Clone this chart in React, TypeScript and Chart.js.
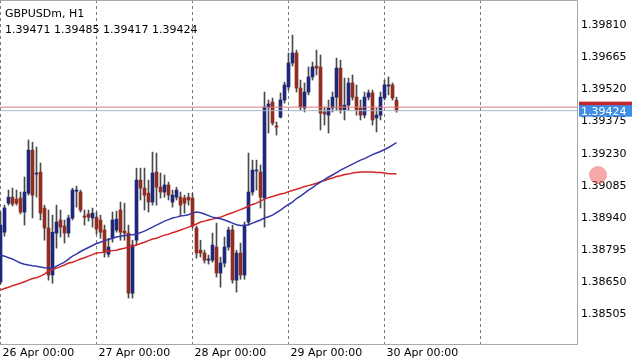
import React, { useEffect, useRef } from 'react';
import { Chart, registerables } from 'chart.js';

Chart.register(...registerables);

const symbolName = 'GBPUSDm, H1';
const dayLabels = ['26 Apr 00:00', '27 Apr 00:00', '28 Apr 00:00', '29 Apr 00:00', '30 Apr 00:00'];
const separatorBars = [0, 24, 48, 72, 96, 120];
const priceTicks = [1.38505, 1.3865, 1.38795, 1.3894, 1.39085, 1.3923, 1.39375, 1.3952, 1.39665, 1.3981];

const opens = [
  1.38651, 1.38876, 1.39007, 1.39034, 1.39025, 1.39030, 1.38967, 1.39052, 1.39246, 1.39138,
  1.39147, 1.38985, 1.38895, 1.38683, 1.38872, 1.38931, 1.38904, 1.38872, 1.38940, 1.39061,
  1.39057, 1.38949, 1.38958, 1.38940, 1.38944, 1.38931, 1.38886, 1.38777, 1.38849, 1.38886,
  1.38976, 1.38881, 1.38872, 1.38601, 1.38840, 1.39111, 1.39075, 1.39052, 1.39012, 1.39147,
  1.39079, 1.39057, 1.39089, 1.39012, 1.39034, 1.39034, 1.39030, 1.39034, 1.39030, 1.38895,
  1.38795, 1.38782, 1.38750, 1.38750, 1.38809, 1.38692, 1.38737, 1.38809, 1.38886, 1.38660,
  1.38782, 1.38683, 1.38922, 1.39057, 1.39152, 1.39147, 1.39030, 1.39440, 1.39463, 1.39355,
  1.39395, 1.39472, 1.39531, 1.39639, 1.39684, 1.39526, 1.39436, 1.39508, 1.39576, 1.39625,
  1.39621, 1.39418, 1.39404, 1.39436, 1.39485, 1.39616, 1.39427, 1.39449, 1.39549, 1.39485,
  1.39436, 1.39404, 1.39485, 1.39504, 1.39391, 1.39404, 1.39481, 1.39535, 1.39540, 1.39471,
];
const highs = [
  1.38967, 1.38998, 1.39066, 1.39075, 1.39066, 1.39057, 1.39125, 1.39292, 1.39282, 1.39260,
  1.39188, 1.38998, 1.38976, 1.38953, 1.38998, 1.38976, 1.38931, 1.38953, 1.39075, 1.39084,
  1.39066, 1.38976, 1.38976, 1.38985, 1.38967, 1.38953, 1.38908, 1.38849, 1.38967, 1.38971,
  1.39012, 1.39007, 1.38908, 1.38840, 1.39165, 1.39165, 1.39165, 1.39111, 1.39237, 1.39233,
  1.39143, 1.39134, 1.39102, 1.39066, 1.39079, 1.39057, 1.39043, 1.39052, 1.39052, 1.38904,
  1.38840, 1.38795, 1.38773, 1.38872, 1.38917, 1.38764, 1.38854, 1.38899, 1.38908, 1.38795,
  1.38827, 1.38922, 1.39233, 1.39201, 1.39201, 1.39179, 1.39508, 1.39472, 1.39481, 1.39373,
  1.39504, 1.39553, 1.39684, 1.39765, 1.39697, 1.39562, 1.39549, 1.39621, 1.39643, 1.39697,
  1.39675, 1.39440, 1.39472, 1.39508, 1.39661, 1.39652, 1.39571, 1.39571, 1.39585, 1.39540,
  1.39472, 1.39508, 1.39517, 1.39517, 1.39436, 1.39508, 1.39562, 1.39576, 1.39549, 1.39485,
];
const lows = [
  1.38642, 1.38858, 1.38998, 1.38994, 1.38998, 1.38958, 1.38908, 1.39043, 1.38940, 1.39034,
  1.38931, 1.38840, 1.38660, 1.38646, 1.38804, 1.38854, 1.38827, 1.38854, 1.38931, 1.38989,
  1.38967, 1.38908, 1.38926, 1.38899, 1.38867, 1.38849, 1.38764, 1.38764, 1.38831, 1.38876,
  1.38840, 1.38840, 1.38579, 1.38579, 1.38818, 1.39021, 1.38976, 1.38967, 1.38998, 1.38998,
  1.39030, 1.39034, 1.39021, 1.38989, 1.39021, 1.38953, 1.38962, 1.38998, 1.38895, 1.38759,
  1.38764, 1.38737, 1.38732, 1.38741, 1.38674, 1.38628, 1.38719, 1.38795, 1.38646, 1.38606,
  1.38664, 1.38664, 1.38908, 1.39043, 1.39066, 1.38985, 1.38899, 1.39323, 1.39359, 1.39314,
  1.39391, 1.39458, 1.39517, 1.39625, 1.39508, 1.39427, 1.39418, 1.39495, 1.39562, 1.39585,
  1.39337, 1.39359, 1.39323, 1.39418, 1.39427, 1.39413, 1.39382, 1.39427, 1.39472, 1.39404,
  1.39382, 1.39391, 1.39472, 1.39359, 1.39328, 1.39382, 1.39472, 1.39495, 1.39472, 1.39417,
];
const closes = [
  1.38908, 1.38985, 1.39034, 1.39003, 1.39007, 1.38967, 1.39057, 1.39246, 1.39043, 1.39143,
  1.38962, 1.38895, 1.38683, 1.38876, 1.38922, 1.38899, 1.38872, 1.38940, 1.39066, 1.39066,
  1.38976, 1.38944, 1.38944, 1.38962, 1.38890, 1.38876, 1.38786, 1.38809, 1.38931, 1.38935,
  1.38876, 1.38872, 1.38601, 1.38818, 1.39111, 1.39075, 1.39043, 1.39012, 1.39143, 1.39079,
  1.39057, 1.39089, 1.39043, 1.39043, 1.39066, 1.38998, 1.39007, 1.39021, 1.38904, 1.38782,
  1.38782, 1.38750, 1.38755, 1.38818, 1.38692, 1.38737, 1.38809, 1.38886, 1.38660, 1.38782,
  1.38683, 1.38908, 1.39057, 1.39156, 1.39156, 1.39034, 1.39440, 1.39454, 1.39368, 1.39350,
  1.39472, 1.39540, 1.39639, 1.39684, 1.39526, 1.39440, 1.39508, 1.39576, 1.39621, 1.39616,
  1.39413, 1.39409, 1.39436, 1.39485, 1.39616, 1.39427, 1.39449, 1.39549, 1.39485, 1.39427,
  1.39404, 1.39485, 1.39504, 1.39382, 1.39404, 1.39485, 1.39540, 1.39540, 1.39481, 1.39424,
];
const fastMA = [
  1.38773, 1.38768, 1.38761, 1.38755, 1.38746, 1.38737, 1.38732, 1.38728, 1.38725, 1.38723,
  1.38719, 1.38716, 1.38714, 1.38712, 1.38723, 1.38732, 1.38741, 1.38755, 1.38768, 1.38777,
  1.38789, 1.38798, 1.38807, 1.38816, 1.38825, 1.38831, 1.38838, 1.38843, 1.38849, 1.38854,
  1.38858, 1.38861, 1.38863, 1.38865, 1.38867, 1.38874, 1.38881, 1.38890, 1.38899, 1.38908,
  1.38917, 1.38926, 1.38933, 1.38940, 1.38944, 1.38949, 1.38951, 1.38955, 1.38962, 1.38967,
  1.38964, 1.38958, 1.38951, 1.38944, 1.38940, 1.38937, 1.38931, 1.38924, 1.38917, 1.38910,
  1.38906, 1.38906, 1.38910, 1.38917, 1.38924, 1.38931, 1.38940, 1.38946, 1.38953, 1.38964,
  1.38976, 1.38989, 1.39001, 1.39012, 1.39028, 1.39039, 1.39052, 1.39066, 1.39077, 1.39091,
  1.39102, 1.39113, 1.39125, 1.39134, 1.39145, 1.39156, 1.39165, 1.39174, 1.39183, 1.39192,
  1.39201, 1.39208, 1.39217, 1.39226, 1.39233, 1.39240, 1.39249, 1.39258, 1.39269, 1.39280,
];
const slowMA = [
  1.38615, 1.38622, 1.38628, 1.38635, 1.38640, 1.38646, 1.38653, 1.38660, 1.38667, 1.38671,
  1.38678, 1.38687, 1.38701, 1.38707, 1.38714, 1.38721, 1.38728, 1.38737, 1.38741, 1.38748,
  1.38755, 1.38761, 1.38768, 1.38775, 1.38782, 1.38784, 1.38786, 1.38791, 1.38793, 1.38795,
  1.38800, 1.38804, 1.38809, 1.38813, 1.38818, 1.38825, 1.38831, 1.38838, 1.38845, 1.38849,
  1.38856, 1.38863, 1.38867, 1.38874, 1.38879, 1.38886, 1.38892, 1.38899, 1.38906, 1.38913,
  1.38922, 1.38926, 1.38931, 1.38935, 1.38940, 1.38944, 1.38951, 1.38958, 1.38964, 1.38971,
  1.38978, 1.38985, 1.38994, 1.39001, 1.39007, 1.39016, 1.39025, 1.39032, 1.39037, 1.39043,
  1.39048, 1.39052, 1.39059, 1.39064, 1.39070, 1.39075, 1.39082, 1.39086, 1.39091, 1.39097,
  1.39104, 1.39109, 1.39116, 1.39120, 1.39127, 1.39131, 1.39136, 1.39138, 1.39143, 1.39145,
  1.39147, 1.39147, 1.39147, 1.39147, 1.39145, 1.39145, 1.39143, 1.39140, 1.39140, 1.39138,
];

const bidPrice = 1.39424;
const askPrice = 1.3944;
const markerPrice = 1.39134;
const priceMin = 1.38372;
const priceMax = 1.39923;
const barMin = -0.125;
const barMax = 144.125;

const BULL = '#1f2878';
const BEAR = '#8e2d20';
const FONT = '"DejaVu Sans", sans-serif';

const overlayPlugin = {
  id: 'mtOverlay',
  afterDraw(chart: any) {
    const { ctx, chartArea, scales } = chart;
    const ys = scales.y;
    ctx.save();
    ctx.strokeStyle = '#a8a8a8';
    ctx.lineWidth = 1;
    ctx.setLineDash([]);
    ctx.beginPath();
    ctx.moveTo(chartArea.left, chartArea.top + 0.5);
    ctx.lineTo(chartArea.right + 0.5, chartArea.top + 0.5);
    ctx.lineTo(chartArea.right + 0.5, chartArea.bottom + 0.5);
    ctx.lineTo(chartArea.left, chartArea.bottom + 0.5);
    ctx.stroke();

    ctx.fillStyle = '#000';
    ctx.font = '11px ' + FONT;
    ctx.textAlign = 'left';
    ctx.textBaseline = 'alphabetic';
    ctx.fillText(symbolName, 5, 17);
    const last = opens.length - 1;
    ctx.fillText(
      [opens[last], highs[last], lows[last], closes[last]].map((v) => v.toFixed(5)).join(' '),
      5,
      33
    );

    const ay = ys.getPixelForValue(askPrice);
    const by = ys.getPixelForValue(bidPrice);
    const lx = chartArea.right + 2;
    ctx.fillStyle = '#c4282c';
    ctx.fillRect(lx, ay - 5.5, 53, 11);
    ctx.fillStyle = '#3d8ee4';
    ctx.fillRect(lx, by - 5.5, 53, 11.5);
    ctx.fillStyle = '#fff';
    ctx.fillText(bidPrice.toFixed(5), lx + 2, by + 4.5);

    ctx.fillStyle = 'rgba(238, 95, 95, 0.55)';
    ctx.beginPath();
    ctx.arc(chartArea.right + 21, ys.getPixelForValue(markerPrice), 9, 0, Math.PI * 2);
    ctx.fill();
    ctx.restore();
  },
};

export default function App() {
  const canvasRef = useRef<HTMLCanvasElement | null>(null);

  useEffect(() => {
    document.body.style.margin = '0';
    const canvas = canvasRef.current;
    if (!canvas) return;

    const bodies = opens.map((o, i) => ({ x: i, y: [o, closes[i]] }));
    const wicks = lows.map((l, i) => ({ x: i, y: [l, highs[i]] }));
    const bodyColors = opens.map((o, i) => (closes[i] >= o ? BULL : BEAR));

    const chart = new Chart(canvas, {
      type: 'bar',
      data: {
        datasets: [
          {
            type: 'line',
            label: 'ask',
            data: [{ x: barMin, y: askPrice }, { x: barMax, y: askPrice }],
            borderColor: '#e07878',
            borderWidth: 1,
            pointRadius: 0,
            order: 0,
          } as any,
          {
            type: 'line',
            label: 'bid',
            data: [{ x: barMin, y: bidPrice }, { x: barMax, y: bidPrice }],
            borderColor: '#a6b8cc',
            borderWidth: 1,
            pointRadius: 0,
            order: 0,
          } as any,
          {
            type: 'line',
            label: 'MA fast',
            data: fastMA.map((v, i) => ({ x: i, y: v })),
            borderColor: '#3438a8',
            borderWidth: 1.5,
            pointRadius: 0,
            tension: 0,
            order: 0,
          } as any,
          {
            type: 'line',
            label: 'MA slow',
            data: slowMA.map((v, i) => ({ x: i, y: v })),
            borderColor: '#d42424',
            borderWidth: 1.5,
            pointRadius: 0,
            tension: 0,
            order: 0,
          } as any,
          {
            type: 'bar',
            label: 'body',
            data: bodies as any,
            backgroundColor: bodyColors,
            borderWidth: 0,
            barThickness: 3,
            minBarLength: 1,
            grouped: false,
            order: 1,
          } as any,
          {
            type: 'bar',
            label: 'wick',
            data: wicks as any,
            backgroundColor: '#4a4a4a',
            borderWidth: 0,
            barThickness: 1,
            grouped: false,
            order: 2,
          } as any,
        ],
      },
      options: {
        animation: false,
        responsive: false,
        devicePixelRatio: 1,
        events: [],
        layout: { padding: 0, autoPadding: false } as any,
        plugins: { legend: { display: false }, tooltip: { enabled: false }, title: { display: false } },
        scales: {
          x: {
            type: 'linear',
            position: 'bottom',
            offset: false,
            min: barMin,
            max: barMax,
            afterBuildTicks: (scale: any) => {
              scale.ticks = separatorBars.map((v) => ({ value: v }));
            },
            afterFit: (scale: any) => {
              scale.height = 16;
              scale.paddingLeft = 0;
              scale.paddingRight = 0;
            },
            grid: { display: true, offset: false, color: '#7a7a7a', lineWidth: 1, drawTicks: false, drawOnChartArea: true },
            border: { display: false, dash: [3, 3] },
            ticks: {
              autoSkip: false,
              maxRotation: 0,
              minRotation: 0,
              align: 'start',
              labelOffset: 2,
              padding: 3,
              color: '#000',
              font: { family: FONT, size: 11 },
              callback: (value: any) => dayLabels[Number(value) / 24] ?? '',
            },
          },
          y: {
            type: 'linear',
            position: 'right',
            min: priceMin,
            max: priceMax,
            afterBuildTicks: (scale: any) => {
              scale.ticks = priceTicks.map((v) => ({ value: v }));
            },
            afterFit: (scale: any) => {
              scale.width = 63;
              scale.paddingTop = 0;
              scale.paddingBottom = 0;
            },
            grid: { display: false, drawTicks: false },
            border: { display: false },
            ticks: {
              autoSkip: false,
              padding: 4,
              color: '#000',
              font: { family: FONT, size: 11 },
              callback: (value: any) => Number(value).toFixed(5),
            },
          },
        },
      } as any,
      plugins: [overlayPlugin],
    });

    return () => chart.destroy();
  }, []);

  return (
    <div style={{ width: 640, height: 360, background: '#fff' }}>
      <canvas ref={canvasRef} width={640} height={360} style={{ display: 'block' }} />
    </div>
  );
}
